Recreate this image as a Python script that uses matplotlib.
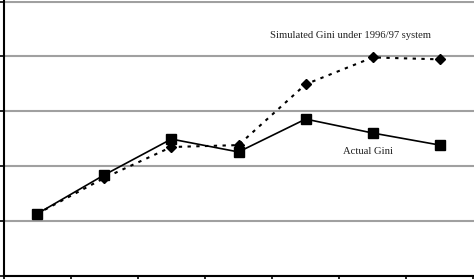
import matplotlib
matplotlib.use("Agg")
import matplotlib.pyplot as plt

periods = [0, 1, 2, 3, 4, 5, 6]
actual_gini = [0.2425, 0.2567, 0.2698, 0.2651, 0.2771, 0.2720, 0.2676]
simulated_gini = [0.2425, 0.2556, 0.2669, 0.2676, 0.2898, 0.2996, 0.2989]
label_sim = "Simulated Gini under 1996/97 system"
label_act = "Actual Gini"

fig = plt.figure(figsize=(4.74, 2.79), dpi=100)
ax = fig.add_axes([3.5 / 474, 3.5 / 279, 470 / 474, 274.5 / 279])

ax.set_xlim(-0.5, 6.5)
ax.set_ylim(0.22, 0.3202)
ax.set_yticks([0.22, 0.24, 0.26, 0.28, 0.30, 0.32])
ax.set_xticks([-0.5, 0.5, 1.5, 2.5, 3.5, 4.5, 5.5, 6.5])
ax.set_xticklabels([])
ax.set_yticklabels([])
ax.tick_params(axis="both", direction="out", length=4, width=1.2, color="black")
ax.grid(axis="y", color="#a0a0a0", linewidth=1.5)
ax.set_axisbelow(True)
for s in ["top", "right"]:
    ax.spines[s].set_visible(False)
for s in ["left", "bottom"]:
    ax.spines[s].set_linewidth(1.5)
    ax.spines[s].set_color("black")

ax.plot(periods, simulated_gini, color="black", linestyle=(0, (1.6, 2.6)), linewidth=1.5,
        marker="D", markersize=5.2, zorder=3)
ax.plot(periods, actual_gini, color="black", linestyle="-", linewidth=1.2,
        marker="s", markersize=6.5, zorder=4)

ax.text(351 / 474, 1 - 35 / 279, label_sim, transform=fig.transFigure, ha="center", va="center",
        fontsize=7.7, family="Liberation Serif", color="#222222")
ax.text(368 / 474, 1 - 152 / 279, label_act, transform=fig.transFigure, ha="center", va="center",
        fontsize=7.7, family="Liberation Serif", color="#222222")

fig.savefig("out.png", dpi=100)
